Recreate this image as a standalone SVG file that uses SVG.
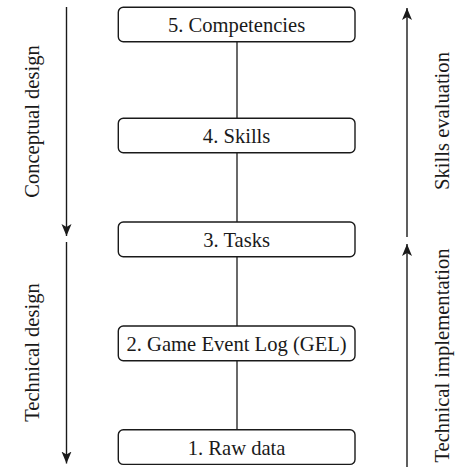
<svg xmlns="http://www.w3.org/2000/svg" width="474" height="474" viewBox="0 0 474 474">
  <style>
    .box { fill: #ffffff; stroke: #1a1a1a; stroke-width: 1.4; }
    .lbl { font-family: "Liberation Serif", "Times New Roman", serif; font-size: 20.6px; fill: #1a1a1a; text-anchor: middle; }
    .conn { stroke: #1a1a1a; stroke-width: 1.3; fill: none; }
    .arr { stroke: #1a1a1a; stroke-width: 1.4; fill: none; marker-end: url(#head); }
  </style>
  <defs>
    <marker id="head" markerUnits="userSpaceOnUse" markerWidth="14" markerHeight="12" refX="12" refY="5" orient="auto" viewBox="0 0 14 10">
      <path d="M0,0 L12,5 L0,10 L3,5 Z" fill="#1a1a1a"/>
    </marker>
  </defs>
  <rect width="474" height="474" fill="#ffffff"/>

  <g id="connectors">
    <line class="conn" x1="237" y1="42" x2="237" y2="118"/>
    <line class="conn" x1="237" y1="153" x2="237" y2="222"/>
    <line class="conn" x1="237" y1="257" x2="237" y2="326"/>
    <line class="conn" x1="237" y1="361" x2="237" y2="430"/>
    <line class="arr" x1="66.5" y1="7" x2="66.5" y2="236"/>
    <line class="arr" x1="66.5" y1="242" x2="66.5" y2="463.5"/>
    <line class="arr" x1="407" y1="237" x2="407" y2="8"/>
    <line class="arr" x1="407" y1="467" x2="407" y2="244"/>
  </g>

  <g id="node5">
    <rect class="box" x="118.3" y="7.3" width="236.7" height="34.5" rx="5"/>
    <text class="lbl" x="236.6" y="32">5. Competencies</text>
  </g>
  <g id="node4">
    <rect class="box" x="118.3" y="118.3" width="236.7" height="34.5" rx="5"/>
    <text class="lbl" x="236.6" y="143">4. Skills</text>
  </g>
  <g id="node3">
    <rect class="box" x="118.3" y="222" width="236.7" height="34.7" rx="5"/>
    <text class="lbl" x="236.6" y="247">3. Tasks</text>
  </g>
  <g id="node2">
    <rect class="box" x="118.3" y="326" width="236.7" height="34.7" rx="5"/>
    <text class="lbl" x="236.6" y="351">2. Game Event Log (GEL)</text>
  </g>
  <g id="node1">
    <rect class="box" x="118.3" y="429.7" width="236.7" height="34.7" rx="5"/>
    <text class="lbl" x="236.6" y="454.5">1. Raw data</text>
  </g>

  <g id="side-labels">
    <text class="lbl" transform="translate(39,121.5) rotate(-90)">Conceptual design</text>
    <text class="lbl" transform="translate(39,352.5) rotate(-90)">Technical design</text>
    <text class="lbl" transform="translate(449,121) rotate(-90)">Skills evaluation</text>
    <text class="lbl" transform="translate(449,355.5) rotate(-90)">Technical implementation</text>
  </g>
</svg>
